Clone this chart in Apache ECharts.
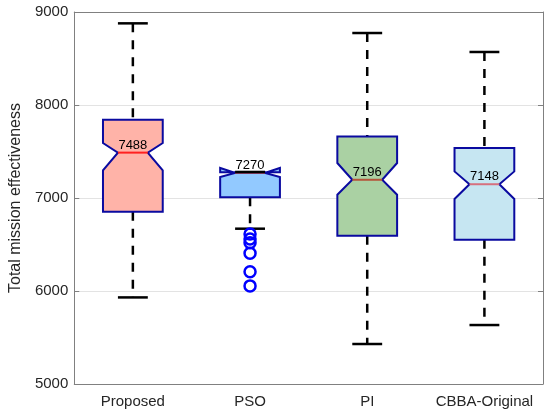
<!DOCTYPE html>
<html>
<head>
<meta charset="utf-8">
<script src="https://cdn.jsdelivr.net/npm/echarts@6/dist/echarts.min.js"></script>
<style>html,body{margin:0;padding:0;background:#fff;}#c{width:550px;height:416px;}</style>
</head>
<body>
<div id="c"></div>
<script>
// ---- data ----
const categories = ['Proposed', 'PSO', 'PI', 'CBBA-Original'];
const whiskerLow  = [5931, 6670, 5430, 5634];
const q1          = [6853, 7008, 6595, 6552];
const notchLow    = [7297, 7226, 7035, 6989];
const median      = [7488, 7270, 7196, 7148];
const notchHigh   = [7591, 7323, 7376, 7286];
const q3          = [7842, 7276, 7662, 7538];
const whiskerHigh = [8878, 7280, 8774, 8570];
const outliersPSO = [6613, 6560, 6518, 6405, 6208, 6055];
const yTicks = [5000, 6000, 7000, 8000, 9000];

// ---- styles ----
const fills = ['#FFB3A8', '#92C9FF', '#AAD1A3', '#C6E6F2'];
const medianColors = ['#FF2020', '#9A3A5A', '#B5553A', '#D6707E'];
const edge = '#0A0AA0';
const FONT = '"Liberation Sans", Arial, Helvetica, sans-serif';

const chart = echarts.init(document.getElementById('c'), null, {renderer: 'canvas'});

function renderBox(params, api) {
  const i = params.dataIndex;
  const band = api.size([1, 0])[0];
  const w = band * 0.255;
  const cx = api.coord([i, median[i]])[0];
  const Y = v => api.coord([i, v])[1];
  const children = [];
  const dash = {stroke: '#000', lineWidth: 2.5, lineDash: [9, 8]};
  if (whiskerHigh[i] > q3[i] + 1) {
    children.push({type: 'line', shape: {x1: cx, y1: Y(whiskerHigh[i]), x2: cx, y2: Y(q3[i])}, style: dash});
  }
  children.push({type: 'line', shape: {x1: cx, y1: Y(q1[i]), x2: cx, y2: Y(whiskerLow[i])}, style: dash});
  const pts = [
    [cx - w, Y(q1[i])], [cx - w, Y(notchLow[i])], [cx - w / 2, Y(median[i])],
    [cx - w, Y(notchHigh[i])], [cx - w, Y(q3[i])], [cx + w, Y(q3[i])],
    [cx + w, Y(notchHigh[i])], [cx + w / 2, Y(median[i])], [cx + w, Y(notchLow[i])],
    [cx + w, Y(q1[i])]
  ];
  children.push({type: 'polygon', shape: {points: pts}, style: {fill: fills[i], stroke: edge, lineWidth: 2, lineJoin: 'miter'}});
  children.push({type: 'line', shape: {x1: cx - w / 2, y1: Y(median[i]), x2: cx + w / 2, y2: Y(median[i])}, style: {stroke: medianColors[i], lineWidth: 2}});
  children.push({type: 'line', shape: {x1: cx - w / 2, y1: Y(whiskerHigh[i]), x2: cx + w / 2, y2: Y(whiskerHigh[i])}, style: {stroke: '#000', lineWidth: 2.5}});
  children.push({type: 'line', shape: {x1: cx - w / 2, y1: Y(whiskerLow[i]), x2: cx + w / 2, y2: Y(whiskerLow[i])}, style: {stroke: '#000', lineWidth: 2.5}});
  children.push({type: 'text', style: {text: String(median[i]), x: cx, y: Y(median[i]) - 1, align: 'center', verticalAlign: 'bottom', fontSize: 13, fontFamily: FONT, fill: '#000'}});
  return {type: 'group', children: children};
}

const axisGray = '#808080';
const option = {
  animation: false,
  backgroundColor: '#fff',
  grid: {left: 72, right: 7, top: 12, bottom: 32, containLabel: false},
  xAxis: [{
    type: 'category', data: categories, boundaryGap: true,
    axisLine: {lineStyle: {color: axisGray, width: 1}},
    axisTick: {inside: true, alignWithLabel: true, length: 5, interval: 0, lineStyle: {color: axisGray}},
    axisLabel: {color: '#262626', fontSize: 15, fontFamily: FONT, margin: 10, interval: 0},
    splitLine: {show: false}
  }, {
    type: 'category', data: categories, position: 'top', boundaryGap: true,
    axisLine: {lineStyle: {color: axisGray, width: 1}},
    axisTick: {inside: true, alignWithLabel: true, length: 5, interval: 0, lineStyle: {color: axisGray}},
    axisLabel: {show: false}, splitLine: {show: false}
  }],
  yAxis: [{
    type: 'value', min: yTicks[0], max: yTicks[yTicks.length - 1], interval: 1000,
    name: 'Total mission effectiveness', nameLocation: 'middle', nameGap: 47,
    nameTextStyle: {color: '#262626', fontSize: 16, fontFamily: FONT},
    axisLine: {show: true, lineStyle: {color: axisGray, width: 1}},
    axisTick: {show: true, inside: true, length: 5, lineStyle: {color: axisGray}},
    axisLabel: {color: '#262626', fontSize: 15, fontFamily: FONT, margin: 6, formatter: v => String(v)},
    splitLine: {show: true, lineStyle: {color: '#E3E3E3', width: 1}}
  }, {
    type: 'value', min: yTicks[0], max: yTicks[yTicks.length - 1], interval: 1000, position: 'right',
    axisLine: {show: true, lineStyle: {color: axisGray, width: 1}},
    axisTick: {show: true, inside: true, length: 5, lineStyle: {color: axisGray}},
    axisLabel: {show: false}, splitLine: {show: false}
  }],
  series: [{
    type: 'custom', xAxisIndex: 0, yAxisIndex: 0,
    renderItem: renderBox,
    data: categories.map((c, i) => [i, median[i]]),
    z: 3
  }, {
    type: 'scatter', xAxisIndex: 0, yAxisIndex: 0,
    data: outliersPSO.map(v => [1, v]),
    symbol: 'circle', symbolSize: 11,
    itemStyle: {color: 'rgba(0,0,0,0)', borderColor: '#0000FF', borderWidth: 2.5, opacity: 1},
    z: 4
  }]
};
chart.setOption(option);
</script>
</body>
</html>
